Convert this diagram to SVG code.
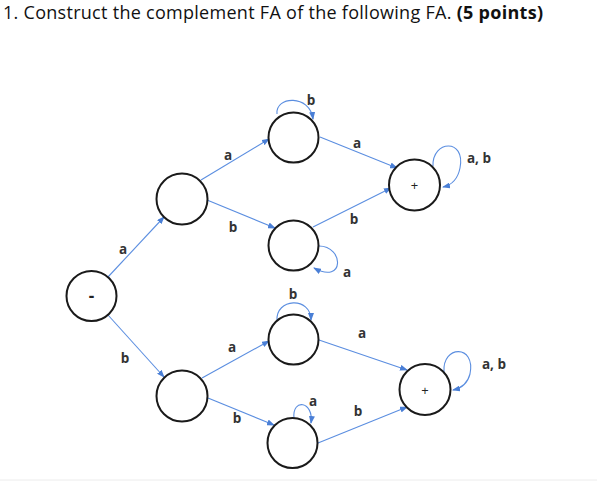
<svg xmlns="http://www.w3.org/2000/svg" width="597" height="481" viewBox="0 0 597 481">
<defs>
<marker id="ah" markerWidth="8" markerHeight="6" refX="7" refY="3" orient="auto" markerUnits="userSpaceOnUse">
<path d="M0,0 L8,3 L0,6 z" fill="#4a7fd6"/>
</marker>
<style>
.st{fill:#fff;stroke:#1a1a1a;stroke-width:2}
.e{fill:none;stroke:#5b8ee0;stroke-width:1.1;marker-end:url(#ah)}
.lb{font-family:"Open Sans","Liberation Sans",sans-serif;font-size:13.5px;font-weight:bold;fill:#333;text-anchor:middle;dominant-baseline:central}
.sym{font-family:"Open Sans","Liberation Sans",sans-serif;font-size:13px;fill:#222;text-anchor:middle;dominant-baseline:central}
.title{font-family:"Open Sans","Liberation Sans",sans-serif;font-size:18px;fill:#111}
</style>
</defs>
<rect width="597" height="481" fill="#fff"/>
<line x1="0" y1="480" x2="597" y2="480" stroke="#ececec" stroke-width="1"/>
<text class="title" x="3" y="19" textLength="540" lengthAdjust="spacing">1. Construct the complement FA of the following FA. <tspan font-weight="bold">(5 points)</tspan></text>

<g id="connectors">
<path class="e" d="M108,277 L164,217"/>
<path class="e" d="M108,315 L164,377"/>
<path class="e" d="M201,180 L269,139"/>
<path class="e" d="M207,200 L275,228"/>
<path class="e" d="M320,137 L397,168"/>
<path class="e" d="M313,227 L391,188"/>
<path class="e" d="M202,378 L269,341"/>
<path class="e" d="M208,398 L274,425"/>
<path class="e" d="M319,340 L407,370"/>
<path class="e" d="M318,443 L407,407"/>
<path class="e" d="M277,114 C275,96 310,94 313,119"/>
<path class="e" d="M319,246 C344,246 345,285 314,268"/>
<path class="e" d="M433,166 C432,140 466,138 460,168 C458,178 452,185 443,187"/>
<path class="e" d="M444,372 C442,345 476,344 470,374 C468,382 462,388 453,390"/>
<path class="e" d="M277,321 C275,298 311,296 311,320"/>
<path class="e" d="M294,418 C292,398 314,401 311,423"/>
</g>

<g id="q0"><circle class="st" cx="91.5" cy="296" r="25"/><text class="sym" x="91.5" y="295" style="font-weight:bold;font-size:17px">-</text></g>
<g id="q1"><circle class="st" cx="182" cy="199" r="25.5"/></g>
<g id="q2"><circle class="st" cx="293.5" cy="137.5" r="25"/></g>
<g id="q3"><circle class="st" cx="293.5" cy="245.5" r="25"/></g>
<g id="q4"><circle class="st" cx="414.5" cy="185" r="25.5"/><text class="sym" x="414.5" y="185">+</text></g>
<g id="q5"><circle class="st" cx="182" cy="396" r="25.5"/></g>
<g id="q6"><circle class="st" cx="293.5" cy="339.5" r="25"/></g>
<g id="q7"><circle class="st" cx="292.5" cy="443" r="25"/></g>
<g id="q8"><circle class="st" cx="425" cy="389.5" r="25.5"/><text class="sym" x="425" y="389.5">+</text></g>

<g id="labels">
<text class="lb" x="311" y="100">b</text>
<text class="lb" x="228" y="155">a</text>
<text class="lb" x="357" y="143">a</text>
<text class="lb" x="233" y="227">b</text>
<text class="lb" x="354" y="219">b</text>
<text class="lb" x="347" y="272">a</text>
<text class="lb" x="479" y="158">a, b</text>
<text class="lb" x="123" y="249">a</text>
<text class="lb" x="125" y="358">b</text>
<text class="lb" x="232" y="347">a</text>
<text class="lb" x="237" y="418">b</text>
<text class="lb" x="293" y="294">b</text>
<text class="lb" x="362" y="333">a</text>
<text class="lb" x="313" y="401">a</text>
<text class="lb" x="358" y="411">b</text>
<text class="lb" x="494" y="364">a, b</text>
</g>
</svg>
